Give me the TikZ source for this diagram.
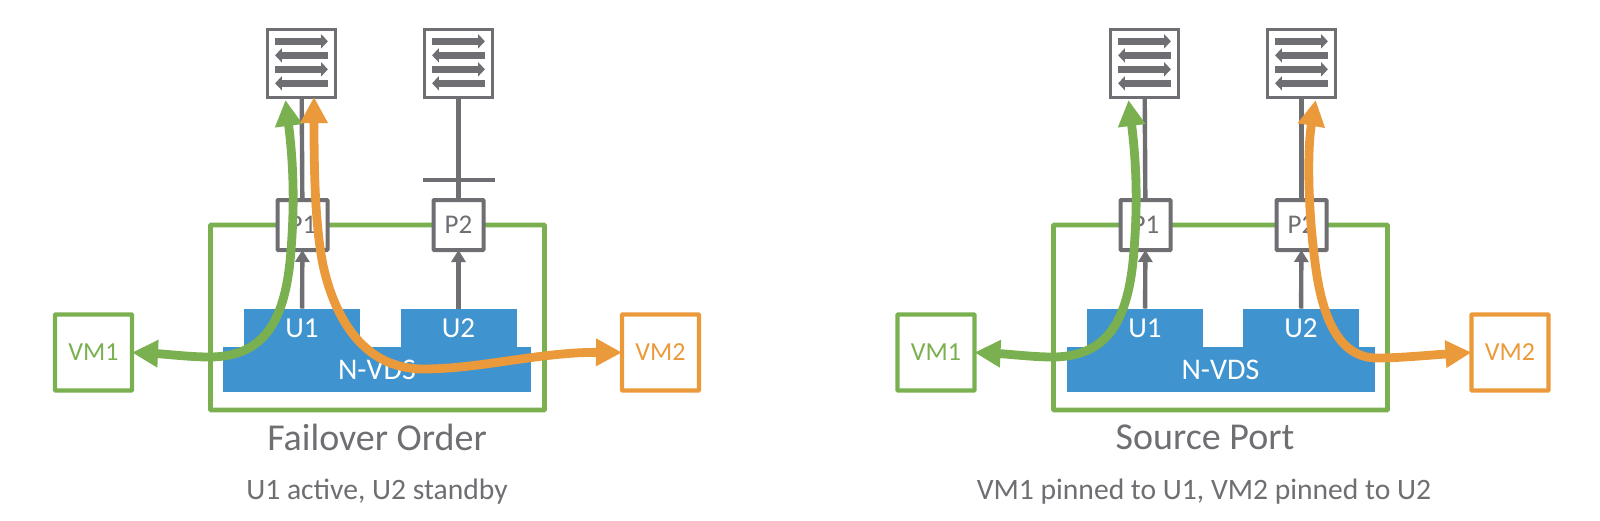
\documentclass[tikz,border=0pt]{standalone}
\usepackage{fontspec}
\setmainfont{Carlito}
\usetikzlibrary{arrows.meta}
\definecolor{vmgreen}{HTML}{7AB04F}
\definecolor{vmorange}{HTML}{EB9A3B}
\definecolor{vdsblue}{HTML}{3F93CE}
\definecolor{netgrey}{HTML}{6E6E73}
\begin{document}
\begin{tikzpicture}
[
    x=.5pt, y=-.5pt,
    every node/.style={inner sep=0pt, outer sep=0pt, font=\fontsize{13}{15}\selectfont},
    switchbox/.style={shape=rectangle, draw=netgrey, line width=1.5pt, fill=white, minimum size=34pt},
    portbox/.style={shape=rectangle, draw=netgrey, line width=2pt, rounded corners=.3pt, fill=white, text=netgrey, minimum size=25pt, font=\fontsize{13.5}{15}\selectfont},
    hostbox/.style={shape=rectangle, draw=vmgreen, line width=2.3pt, rounded corners=.3pt, minimum width=167pt, minimum height=92.5pt},
    vmbox/.style={shape=rectangle, line width=2.1pt, rounded corners=.3pt, minimum width=38.5pt, minimum height=38pt},
    uplink/.style={shape=rectangle, fill=vdsblue, text=white, minimum width=58pt, minimum height=19.5pt, font=\fontsize{14.5}{16}\selectfont},
    vds/.style={shape=rectangle, fill=vdsblue, text=white, minimum width=154pt, minimum height=22.5pt, font=\fontsize{15}{16}\selectfont},
    wire/.style={draw=netgrey, line width=2.2pt},
    link/.style={wire, -{Triangle[length=6pt,width=7pt]}},
    flow/.style={line width=4.4pt, {Triangle[length=13pt,width=13pt]}-{Triangle[length=13pt,width=13pt]}},
    title/.style={text=netgrey, font=\fontsize{19}{22}\selectfont},
    note/.style={text=netgrey, font=\fontsize{14.8}{16}\selectfont},
]
\useasboundingbox (0,0) rectangle (1600,520);

\node(hosta) at (377.5,317.5) [hostbox]{};
\node(hostb) at (1220.5,317.5) [hostbox]{};

\node(swa1) at (301.5,63) [switchbox]{};
\node(swa2) at (458.5,63) [switchbox]{};
\node(swb1) at (1144.5,63) [switchbox]{};
\node(swb2) at (1301.5,63) [switchbox]{};

\foreach \sw in {swa1,swa2,swb1,swb2}{
    \foreach \off/\lft/\rgt in {10.85/-13.2/13.2,3.85/13.2/-13.2,-3.15/-13.2/13.2,-10.15/13.2/-13.2}{
        \draw[netgrey, line width=3.5pt, -{Triangle[length=3.4pt,width=7pt]}]
            ([xshift=\lft pt,yshift=\off pt]\sw.center) -- ([xshift=\rgt pt,yshift=\off pt]\sw.center);
    }
}

\node(pa1) at (302.5,225) [portbox]{P1};
\node(pa2) at (458.5,225) [portbox]{P2};
\node(pb1) at (1145.5,225) [portbox]{P1};
\node(pb2) at (1301.5,225) [portbox]{P2};

\draw[wire] (swa1) to (pa1);
\draw[wire] (swa2) to (pa2);
\draw[wire] (swb1) to (pb1);
\draw[wire] (swb2) to (pb2);

\coordinate(stopl) at (423,180);
\coordinate(stopr) at (495,180);
\draw[wire] (stopl) to (stopr);

\node(nvdsa) at (377,369.5) [vds]{N-VDS};
\node(nvdsb) at (1220.5,369.5) [vds]{N-VDS};
\node(ua1) at (302,328) [uplink]{U1};
\node(ua2) at (458.5,328) [uplink]{U2};
\node(ub1) at (1145,328) [uplink]{U1};
\node(ub2) at (1301,328) [uplink]{U2};

\draw[link] (ua1) to (pa1);
\draw[link] (ua2) to (pa2);
\draw[link] (ub1) to (pb1);
\draw[link] (ub2) to (pb2);

\node(vma1) at (93.5,352.5) [vmbox, draw=vmgreen, text=vmgreen]{VM1};
\node(vma2) at (660.5,352.5) [vmbox, draw=vmorange, text=vmorange]{VM2};
\node(vmb1) at (936,352.5) [vmbox, draw=vmgreen, text=vmgreen]{VM1};
\node(vmb2) at (1510,352.5) [vmbox, draw=vmorange, text=vmorange]{VM2};

\coordinate(tipga) at (285.5,100);
\coordinate(tipoa) at (314,97);
\coordinate(tipgb) at (1128.5,100);
\coordinate(tipob) at (1315.7,100);

\draw[flow, vmgreen] (tipga) .. controls (293,160) and (295,200) .. (291,250)
    .. controls (286,320) and (265,357) .. (209,357)
    .. controls (190,357) and (165,354) .. (vma1.east);
\draw[flow, vmorange] (vma2.west) .. controls (540,352) and (480,369) .. (423,369)
    .. controls (365,369) and (335,320) .. (323,265)
    .. controls (315,225) and (314,170) .. (tipoa);
\draw[flow, vmgreen] (tipgb) .. controls (1136,160) and (1138,200) .. (1134,250)
    .. controls (1129,320) and (1108,357) .. (1052,357)
    .. controls (1033,357) and (1008,354) .. (vmb1.east);
\draw[flow, vmorange] (vmb2.west) .. controls (1430,355) and (1400,358) .. (1377,358)
    .. controls (1340,358) and (1322,320) .. (1315,262)
    .. controls (1308,210) and (1307,150) .. (tipob);

\node(titlea) at (377,437) [title]{Failover Order};
\node(titleb) at (1205,437) [title]{Source Port};
\node(notea) at (377,491.5) [note]{U1 active, U2 standby};
\node(noteb) at (1204,491.5) [note]{VM1 pinned to U1, VM2 pinned to U2};

\end{tikzpicture}
\end{document}
